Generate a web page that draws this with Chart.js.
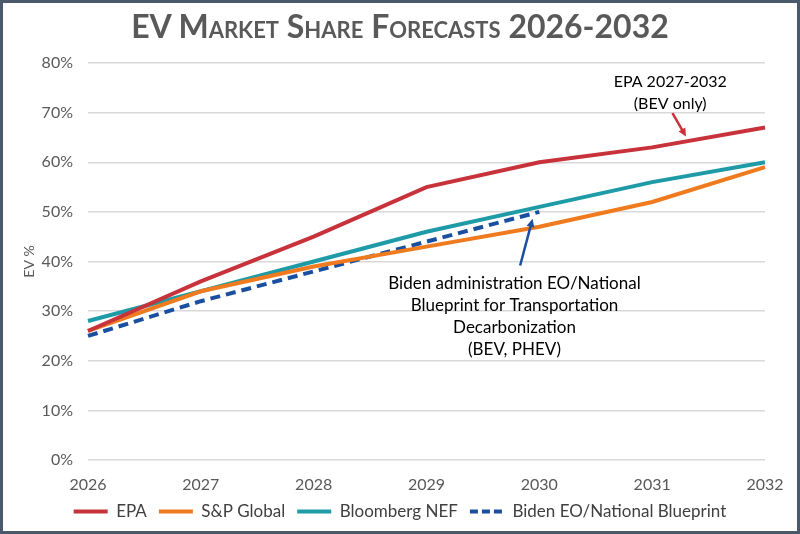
<!DOCTYPE html>
<html lang="en">

<head>
  <meta charset="UTF-8">
  <title>EV Market Share Forecasts</title>
  <script src="https://cdn.jsdelivr.net/npm/chart.js"></script>
  <style>
    body { margin: 0; background: #fff; }
    #frame {
      position: relative;
      width: 800px;
      height: 534px;
      box-sizing: border-box;
      border: 3px solid #4b5a6b;
      background: #fff;
    }
    #title {
      position: absolute;
      left: 0;
      right: 0;
      top: 3px;
      text-align: center;
      font-family: Lato, sans-serif;
      font-weight: bold;
      font-variant: small-caps;
      font-size: 32px;
      color: #595959;
    }
    canvas { position: absolute; left: 0; top: 0; }
  </style>
</head>

<body>
  <div id="frame">
    <canvas id="evChart" width="794" height="528"></canvas>
    <div id="title">EV Market Share Forecasts 2026-2032</div>
  </div>

  <script>
    // data
    const years = ['2026', '2027', '2028', '2029', '2030', '2031', '2032'];
    const epa = [26, 36, 45, 55, 60, 63, 67];
    const spGlobal = [26, 34, 39, 43, 47, 52, 59];
    const bloomberg = [28, 34, 40, 46, 51, 56, 60];
    const biden = [25, 32, 38, 44, 50, null, null];
    const yTicks = [0, 10, 20, 30, 40, 50, 60, 70, 80];

    // callout notes, placed in data units (x = year index, y = %)
    const notes = [
      {
        color: '#c8323a',
        size: 16,
        lines: ['EPA 2027-2032', '(BEV only)'],
        x: 5.16, y: [76.2, 71.8],
        arrow: [5.18, 69.9, 5.30, 65.2]
      },
      {
        color: '#1a4fa0',
        size: 17,
        lines: ['Biden administration EO/National', 'Blueprint for Transportation', 'Decarbonization', '(BEV, PHEV)'],
        x: 3.78, y: [35.6, 31.2, 26.6, 22.3],
        arrow: [3.83, 39.2, 3.94, 48.6]
      }
    ];

    const notePlugin = {
      id: 'notes',
      afterDatasetsDraw(chart) {
        const ctx = chart.ctx;
        const xs = chart.scales.x, ys = chart.scales.y;
        ctx.save();
        notes.forEach(n => {
          ctx.fillStyle = '#000';
          ctx.font = n.size + 'px Lato';
          ctx.textAlign = 'center';
          ctx.textBaseline = 'middle';
          n.lines.forEach((t, i) => {
            ctx.fillText(t, xs.getPixelForValue(n.x), ys.getPixelForValue(n.y[i]));
          });
          const x1 = xs.getPixelForValue(n.arrow[0]), y1 = ys.getPixelForValue(n.arrow[1]);
          const x2 = xs.getPixelForValue(n.arrow[2]), y2 = ys.getPixelForValue(n.arrow[3]);
          const a = Math.atan2(y2 - y1, x2 - x1);
          ctx.strokeStyle = n.color;
          ctx.fillStyle = n.color;
          ctx.lineWidth = 2.5;
          ctx.beginPath();
          ctx.moveTo(x1, y1);
          ctx.lineTo(x2 - 6 * Math.cos(a), y2 - 6 * Math.sin(a));
          ctx.stroke();
          ctx.beginPath();
          ctx.moveTo(x2, y2);
          ctx.lineTo(x2 - 9 * Math.cos(a - 0.45), y2 - 9 * Math.sin(a - 0.45));
          ctx.lineTo(x2 - 9 * Math.cos(a + 0.45), y2 - 9 * Math.sin(a + 0.45));
          ctx.closePath();
          ctx.fill();
        });
        ctx.restore();
      }
    };

    const ctx = document.getElementById('evChart').getContext('2d');
    const evChart = new Chart(ctx, {
      type: 'line',
      data: {
        labels: years,
        datasets: [{
          label: 'EPA',
          data: epa,
          borderColor: '#c8323a',
          backgroundColor: '#c8323a',
          borderWidth: 4
        }, {
          label: 'S&P Global',
          data: spGlobal,
          borderColor: '#f07a1e',
          backgroundColor: '#f07a1e',
          borderWidth: 4
        }, {
          label: 'Bloomberg NEF',
          data: bloomberg,
          borderColor: '#1e9ba6',
          backgroundColor: '#1e9ba6',
          borderWidth: 4
        }, {
          label: 'Biden EO/National Blueprint',
          data: biden,
          borderColor: '#1a4fa0',
          backgroundColor: '#1a4fa0',
          borderWidth: 4,
          borderDash: [10, 6]
        }]
      },
      options: {
        responsive: false,
        animation: false,
        elements: {
          line: { tension: 0 },
          point: { radius: 0 }
        },
        layout: {
          padding: { top: 60, right: 16, left: 16, bottom: 1 }
        },
        plugins: {
          legend: {
            position: 'bottom',
            labels: {
              usePointStyle: true,
              pointStyle: 'line',
              pointStyleWidth: 34,
              boxHeight: 17,
              color: '#404040',
              font: { family: 'Lato', size: 17 },
              padding: 12,
              // point-style items lose the dataset dash, put it back
              generateLabels: chart => {
                const items = Chart.defaults.plugins.legend.labels.generateLabels(chart);
                items.forEach(it => {
                  const ds = chart.data.datasets[it.datasetIndex];
                  it.lineWidth = 4;
                  it.lineDash = ds.borderDash ? [8, 4] : [];
                });
                return items;
              }
            }
          },
          tooltip: { enabled: false }
        },
        scales: {
          x: {
            offset: false,
            afterFit: s => { s.height = 31; s.paddingRight = 32; },
            grid: { display: false, drawTicks: false },
            border: { display: false },
            ticks: {
              color: '#595959',
              font: { family: 'Lato', size: 16 },
              padding: 15,
              maxRotation: 0
            }
          },
          y: {
            min: 0,
            max: 80,
            afterBuildTicks: s => { s.ticks = yTicks.map(v => ({ value: v })); },
            afterFit: s => { s.width = 69; },
            grid: { color: '#d9d9d9', lineWidth: 1.5, drawTicks: false },
            border: { display: false },
            ticks: {
              color: '#595959',
              font: { family: 'Lato', size: 16 },
              padding: 15,
              callback: v => v + '%'
            },
            title: {
              display: true,
              text: 'EV %',
              color: '#595959',
              font: { family: 'Lato', size: 14 },
              padding: { top: 2, bottom: 0 }
            }
          }
        }
      },
      plugins: [notePlugin]
    });
  </script>
</body>

</html>
